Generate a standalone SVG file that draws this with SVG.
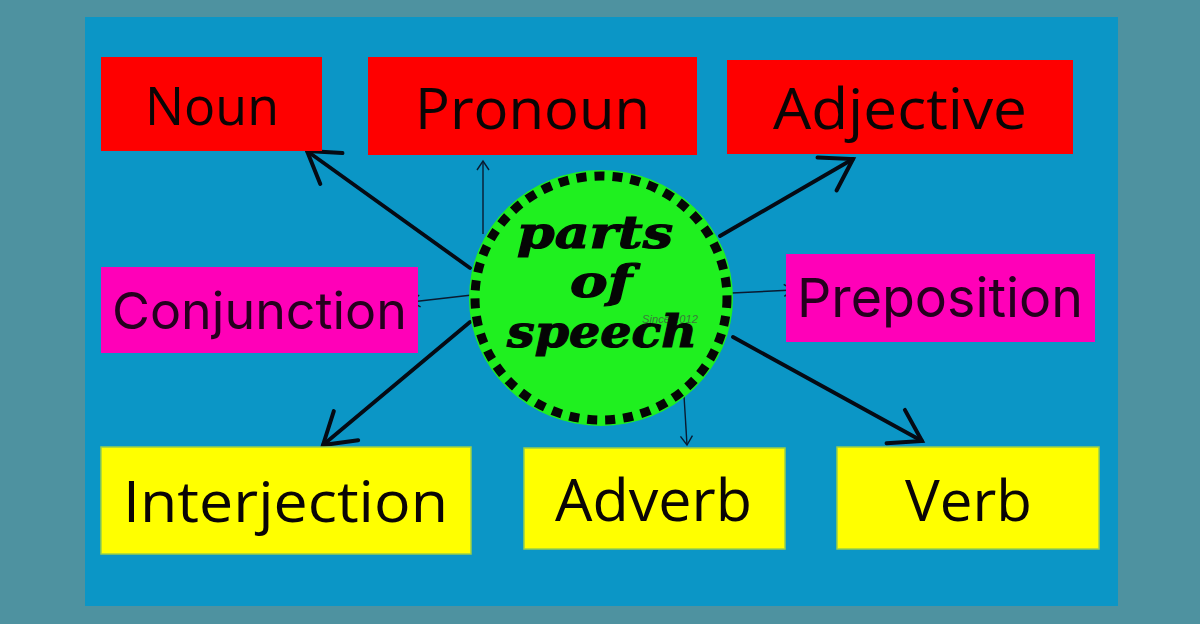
<svg xmlns="http://www.w3.org/2000/svg" width="1200" height="624" viewBox="0 0 1200 624">
<style>
.box-red{fill:#fe0000}
.box-mag{fill:#ff00b8}
.box-yel{fill:#ffff00;stroke:#9ad04a;stroke-width:1.5}
.lbl{font-family:"Open Sans","DejaVu Sans",sans-serif;fill:#0a0505}
.lbl2{font-family:Inter,"Open Sans",sans-serif;fill:#25001e}
.thick{stroke:#050a14;stroke-width:3.8;fill:none;stroke-linecap:round}
.thin{stroke:#0a1a30;stroke-width:1.4;fill:none}
.ctr{font-family:"DejaVu Serif","Liberation Serif",serif;font-weight:bold;font-style:italic;fill:#050505;stroke:#050505;stroke-width:1.2}
</style>
<defs>
<marker id="headThick" viewBox="-40 -25 46 50" markerWidth="46" markerHeight="50" refX="0" refY="0" orient="auto" markerUnits="userSpaceOnUse">
<path d="M-30,-19 L0,0 L-30,19" fill="none" stroke="#050a14" stroke-width="4" stroke-linecap="round" stroke-linejoin="miter"/>
</marker>
<marker id="headThin" viewBox="-14 -10 16 20" markerWidth="16" markerHeight="20" refX="0" refY="0" orient="auto" markerUnits="userSpaceOnUse">
<path d="M-9,-6 L0,0 L-9,6" fill="none" stroke="#0a1a30" stroke-width="1.4"/>
</marker>
</defs>
<rect x="0" y="0" width="1200" height="624" fill="#4e92a0"/>
<rect x="85" y="17" width="1033" height="589" fill="#0b96c6"/>

<g id="connectors">
<line class="thick" x1="470" y1="268" x2="307" y2="151" marker-end="url(#headThick)"/>
<line class="thin" x1="483" y1="234" x2="483" y2="161" marker-end="url(#headThin)"/>
<line class="thick" x1="720" y1="236" x2="853" y2="159" marker-end="url(#headThick)"/>
<line class="thin" x1="472" y1="295" x2="411" y2="302" marker-end="url(#headThin)"/>
<line class="thin" x1="732" y1="293" x2="793" y2="290" marker-end="url(#headThin)"/>
<line class="thick" x1="470" y1="322" x2="323" y2="445" marker-end="url(#headThick)"/>
<line class="thin" x1="683" y1="379" x2="687" y2="445" marker-end="url(#headThin)"/>
<line class="thick" x1="733" y1="337" x2="922" y2="441" marker-end="url(#headThick)"/>
</g>

<g id="noun">
<rect class="box-red" x="101" y="57" width="221" height="94"/>
<text class="lbl" x="145" y="125" font-size="53" textLength="134" lengthAdjust="spacingAndGlyphs">Noun</text>
</g>
<g id="pronoun">
<rect class="box-red" x="368" y="57" width="329" height="98"/>
<text class="lbl" x="415" y="129" font-size="57" textLength="235" lengthAdjust="spacingAndGlyphs">Pronoun</text>
</g>
<g id="adjective">
<rect class="box-red" x="727" y="60" width="346" height="94"/>
<text class="lbl" x="773" y="129" font-size="57" textLength="254" lengthAdjust="spacingAndGlyphs">Adjective</text>
</g>
<g id="conjunction">
<rect class="box-mag" x="101" y="267" width="317" height="86"/>
<text class="lbl2" x="112" y="329" font-size="51" textLength="295" lengthAdjust="spacingAndGlyphs">Conjunction</text>
</g>
<g id="preposition">
<rect class="box-mag" x="786" y="254" width="309" height="88"/>
<text class="lbl2" x="797" y="317" font-size="54" textLength="286" lengthAdjust="spacingAndGlyphs">Preposition</text>
</g>
<g id="interjection">
<rect class="box-yel" x="101" y="447" width="370" height="107"/>
<text class="lbl" x="123" y="522" font-size="57" textLength="325" lengthAdjust="spacingAndGlyphs">Interjection</text>
</g>
<g id="adverb">
<rect class="box-yel" x="524" y="448" width="261" height="101"/>
<text class="lbl" x="555" y="521" font-size="59" textLength="197" lengthAdjust="spacingAndGlyphs">Adverb</text>
</g>
<g id="verb">
<rect class="box-yel" x="837" y="447" width="262" height="102"/>
<text class="lbl" x="905" y="521" font-size="57" textLength="127" lengthAdjust="spacingAndGlyphs">Verb</text>
</g>

<g id="center">
<ellipse cx="601" cy="298" rx="132" ry="128" fill="#1ff01f"/>
<ellipse cx="601" cy="298" rx="126" ry="122" fill="none" stroke="#050505" stroke-width="9" stroke-dasharray="10 8.05"/>
<text x="642" y="323" font-family="'Liberation Sans',Arial,sans-serif" font-style="italic" font-size="11" fill="#3b7a3b" textLength="56" lengthAdjust="spacingAndGlyphs">Since 2012</text>
<text class="ctr" x="517" y="248" font-size="45" textLength="156" lengthAdjust="spacingAndGlyphs">parts</text>
<text class="ctr" x="570" y="297" font-size="45" textLength="62" lengthAdjust="spacingAndGlyphs">of</text>
<text class="ctr" x="507" y="347" font-size="45" textLength="190" lengthAdjust="spacingAndGlyphs">speech</text>
</g>
</svg>
